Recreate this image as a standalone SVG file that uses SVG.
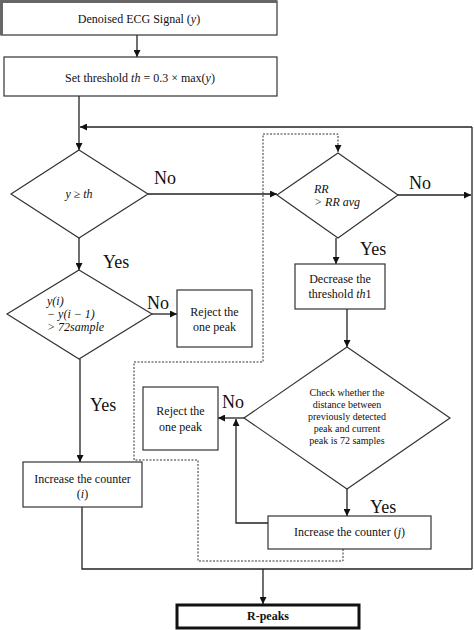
<svg xmlns="http://www.w3.org/2000/svg" width="474" height="630" viewBox="0 0 474 630">
<defs>
<marker id="ah" viewBox="0 0 10 10" refX="10" refY="5" markerWidth="7" markerHeight="7" markerUnits="userSpaceOnUse" orient="auto">
<path d="M0,0 L10,5 L0,10 z" fill="#111"/>
</marker>
<style>
.box{fill:#fff;stroke:#333;stroke-width:1.2}
.ln{fill:none;stroke:#222;stroke-width:1.3}
.dash{fill:none;stroke:#333;stroke-width:1;stroke-dasharray:2,1.5}
.t{font-family:"Liberation Serif","Times New Roman",serif;font-size:12px;fill:#111;text-anchor:middle}
.m{font-family:"Liberation Serif","DejaVu Serif",serif;font-style:italic;font-size:12px;fill:#111}
.lab{font-family:"Liberation Serif","Times New Roman",serif;font-size:18px;fill:#111}
.s{font-family:"Liberation Serif","Times New Roman",serif;font-size:10px;fill:#111;text-anchor:middle}
</style>
</defs>
<rect width="474" height="630" fill="#fff"/>

<g id="connectors">
<line class="ln" x1="137" y1="35" x2="137" y2="57" marker-end="url(#ah)"/>
<line class="ln" x1="79" y1="96" x2="79" y2="150" marker-end="url(#ah)"/>
<line class="ln" x1="472" y1="127" x2="472" y2="569"/>
<line class="ln" x1="472" y1="127" x2="80" y2="127" marker-end="url(#ah)"/>
<line class="ln" x1="148" y1="194" x2="277" y2="194" marker-end="url(#ah)"/>
<line class="ln" x1="398" y1="195" x2="471" y2="195" marker-end="url(#ah)"/>
<line class="ln" x1="79" y1="238" x2="79" y2="270" marker-end="url(#ah)"/>
<line class="ln" x1="152" y1="314" x2="177" y2="314" marker-end="url(#ah)"/>
<line class="ln" x1="80" y1="359" x2="80" y2="462" marker-end="url(#ah)"/>
<polyline class="ln" points="82,507 82,569 472,569"/>
<line class="ln" x1="263" y1="569" x2="263" y2="604" marker-end="url(#ah)"/>
<line class="ln" x1="336" y1="238" x2="336" y2="264" marker-end="url(#ah)"/>
<line class="ln" x1="347" y1="309" x2="347" y2="347" marker-end="url(#ah)"/>
<line class="ln" x1="244" y1="418" x2="218" y2="418" marker-end="url(#ah)"/>
<line class="ln" x1="347" y1="489" x2="347" y2="516" marker-end="url(#ah)"/>
<polyline class="ln" points="268,523 236,523 236,419" marker-end="url(#ah)"/>
<polyline class="dash" points="343,549 343,561 198,561 198,460 134,460 134,362 263,362 263,134 338,134 338,152" marker-end="url(#ah)"/>
<text class="lab" x="154" y="184">No</text>
<text class="lab" x="103" y="268">Yes</text>
<text class="lab" x="147" y="309">No</text>
<text class="lab" x="90" y="411">Yes</text>
<text class="lab" x="409" y="189">No</text>
<text class="lab" x="360" y="255">Yes</text>
<text class="lab" x="222" y="408">No</text>
<text class="lab" x="370" y="513">Yes</text>
</g>

<g id="n-input">
<rect class="box" x="1" y="1" width="276" height="34"/>
<path d="M1.5,35 V1.5 H277" fill="none" stroke="#666" stroke-width="3"/>
<text class="t" x="139" y="23">Denoised ECG Signal (<tspan font-style="italic">y</tspan>)</text>
</g>

<g id="n-threshold">
<rect class="box" x="4" y="57" width="273" height="39"/>
<text class="t" x="140" y="82">Set threshold <tspan class="m" font-size="13">th</tspan> = 0.3 × max(<tspan font-style="italic">y</tspan>)</text>
</g>

<g id="n-d1">
<polygon class="box" points="79,150 148,194 79,238 11,194"/>
<text class="m" x="79" y="198" text-anchor="middle">y ≥ th</text>
</g>

<g id="n-d2">
<polygon class="box" points="79,270 152,314 79,359 7,314"/>
<text class="m" x="47" y="305" font-size="10.5">y(i)</text>
<text class="m" x="47" y="318" font-size="10.5">− y(i − 1)</text>
<text class="m" x="47" y="331" font-size="10.5">&gt; 72sample</text>
</g>

<g id="n-reject1">
<rect class="box" x="177" y="290" width="75" height="57"/>
<text class="t" x="214.5" y="316">Reject the</text>
<text class="t" x="214.5" y="331">one peak</text>
</g>

<g id="n-inc-i">
<rect class="box" x="23" y="462" width="119" height="45"/>
<text class="t" x="82.5" y="483">Increase the counter</text>
<text class="t" x="82.5" y="498">(<tspan font-style="italic">i</tspan>)</text>
</g>

<g id="n-rr">
<polygon class="box" points="338,153 398,195 338,238 277,195"/>
<text class="m" x="314" y="193" font-size="11">RR</text>
<text class="m" x="314" y="206" font-size="11">&gt; RR avg</text>
</g>

<g id="n-decrease">
<rect class="box" x="295" y="264" width="90" height="45"/>
<text class="t" x="340" y="283">Decrease the</text>
<text class="t" x="340" y="298">threshold <tspan font-style="italic">th</tspan>1</text>
</g>

<g id="n-check">
<polygon class="box" points="347,347 450,418 347,489 244,418"/>
<text class="s" x="347" y="396">Check whether the</text>
<text class="s" x="347" y="408">distance between</text>
<text class="s" x="347" y="420">previously detected</text>
<text class="s" x="347" y="432">peak and current</text>
<text class="s" x="347" y="444">peak is 72 samples</text>
</g>

<g id="n-reject2">
<rect class="box" x="143" y="387" width="75" height="63"/>
<text class="t" x="180.5" y="415">Reject the</text>
<text class="t" x="180.5" y="431">one peak</text>
</g>

<g id="n-inc-j">
<rect class="box" x="268" y="516" width="163" height="33"/>
<text class="t" x="349.5" y="536">Increase the counter (<tspan font-style="italic">j</tspan>)</text>
</g>

<g id="n-rpeaks">
<rect x="177" y="605" width="182" height="23" fill="#fff" stroke="#111" stroke-width="3"/>
<text class="t" x="268" y="620" font-size="10" font-weight="bold">R-peaks</text>
</g>
</svg>
